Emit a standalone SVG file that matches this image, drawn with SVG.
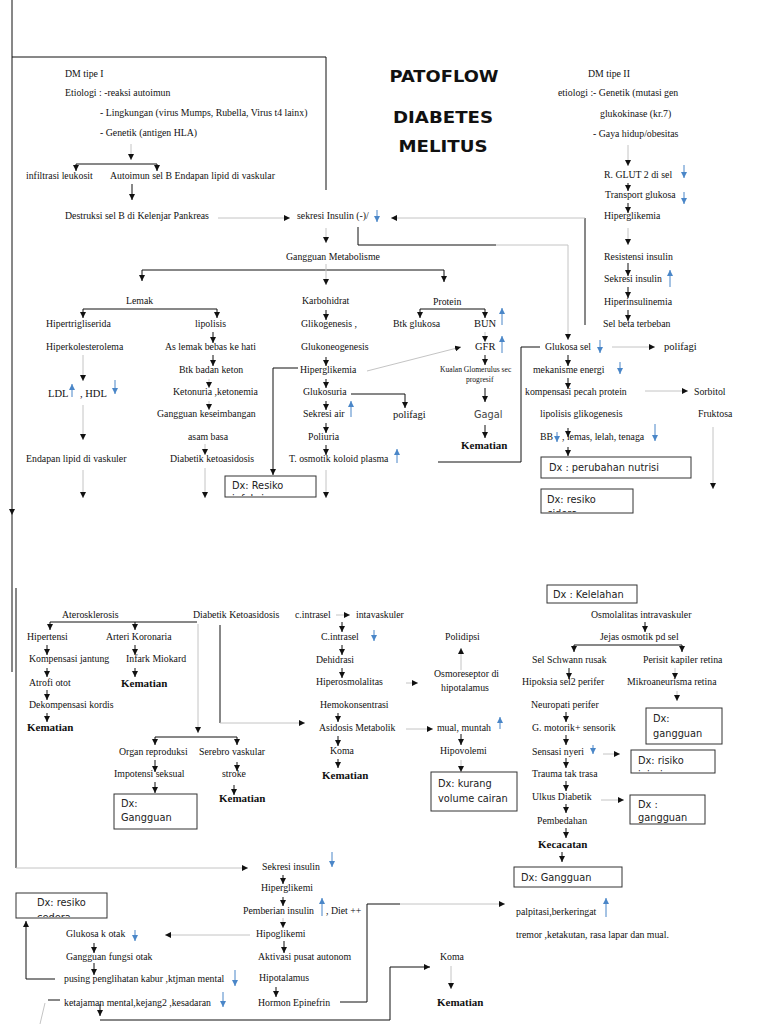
<svg xmlns="http://www.w3.org/2000/svg" width="768" height="1024" viewBox="0 0 768 1024">
<style>
text{font-family:"Liberation Serif","Times New Roman",serif;font-size:9.8px;fill:#111}
.b{font-weight:bold;font-size:11px}
.s{font-family:"DejaVu Sans","Liberation Sans",sans-serif;font-size:9.8px;fill:#222}
.ttl{font-family:"DejaVu Sans","Liberation Sans",sans-serif;font-weight:bold;font-size:16px;fill:#111}
.sm{font-size:7.6px}
.k{stroke:#111;stroke-width:1;fill:none}
.g{stroke:#c4c4c4;stroke-width:1;fill:none}
.bl{stroke:#4a86c8;stroke-width:1;fill:none}
.box{fill:#fff;stroke:#333;stroke-width:1}
</style>
<defs>
<marker id="ah" viewBox="0 0 6 6" refX="6" refY="3" markerWidth="6" markerHeight="6" orient="auto" markerUnits="userSpaceOnUse"><path d="M0,0L6,3L0,6z" fill="#111"/></marker>
<marker id="bh" viewBox="0 0 6 6" refX="6" refY="3" markerWidth="6" markerHeight="6" orient="auto" markerUnits="userSpaceOnUse"><path d="M0,0L6,3L0,6z" fill="#4a86c8"/></marker>
<clipPath id="c1"><rect x="225" y="476" width="91" height="20"/></clipPath>
<clipPath id="c2"><rect x="541" y="489" width="92" height="23"/></clipPath>
<clipPath id="c3"><rect x="114" y="794" width="83" height="34"/></clipPath>
<clipPath id="c4"><rect x="646" y="708" width="76" height="35"/></clipPath>
<clipPath id="c5"><rect x="631" y="750" width="84" height="22"/></clipPath>
<clipPath id="c6"><rect x="16" y="893" width="91" height="24"/></clipPath>
</defs>
<rect width="768" height="1024" fill="#fff"/>

<g id="title">
<text class="ttl" x="444" y="82" text-anchor="middle" textLength="109" lengthAdjust="spacingAndGlyphs">PATOFLOW</text>
<text class="ttl" x="443" y="123" text-anchor="middle" textLength="100" lengthAdjust="spacingAndGlyphs">DIABETES</text>
<text class="ttl" x="443" y="152" text-anchor="middle" textLength="89" lengthAdjust="spacingAndGlyphs">MELITUS</text>
</g>

<g id="connectors">
<path class="k" d="M12,0V515" marker-end="url(#ah)"/>
<path class="k" d="M12,515V672"/>
<path class="k" d="M12,57H326V190"/>
<path class="k" d="M16,588V868"/>
<path class="g" d="M16,868H248" marker-end="url(#ah)"/>
<path class="g" d="M131,144V160" marker-end="url(#ah)"/>
<path class="k" d="M76,164H157"/>
<path class="k" d="M76,164V171" marker-end="url(#ah)"/>
<path class="k" d="M157,164V171" marker-end="url(#ah)"/>
<path class="k" d="M132,184V200" marker-end="url(#ah)"/>
<path class="g" d="M218,218H290" marker-end="url(#ah)"/>
<path class="bl" d="M377,210V222" marker-end="url(#bh)"/>
<path class="k" d="M585,325V218"/>
<path class="g" d="M585,218H391" marker-end="url(#ah)"/>
<path class="k" d="M358,227V245H496"/>
<path class="g" d="M496,245H568V340" marker-end="url(#ah)"/>
<path class="g" d="M326,228V243" marker-end="url(#ah)"/>
<path class="k" d="M142,270H444"/>
<path class="k" d="M142,270V281" marker-end="url(#ah)"/>
<path class="k" d="M444,270V282" marker-end="url(#ah)"/>
<path class="g" d="M326,264V285" marker-end="url(#ah)"/>
<path class="k" d="M83,309H217"/>
<path class="k" d="M83,309V318" marker-end="url(#ah)"/>
<path class="k" d="M217,309V318" marker-end="url(#ah)"/>
<path class="k" d="M213,332V343" marker-end="url(#ah)"/>
<path class="k" d="M213,355V366" marker-end="url(#ah)"/>
<path class="g" d="M209,379V388" marker-end="url(#ah)"/>
<path class="g" d="M209,401V410" marker-end="url(#ah)"/>
<path class="g" d="M205,444V455" marker-end="url(#ah)"/>
<path class="g" d="M83,355V381" marker-end="url(#ah)"/>
<path class="g" d="M83,405V440" marker-end="url(#ah)"/>
<path class="g" d="M83,470V498" marker-end="url(#ah)"/>
<path class="g" d="M205,468V498" marker-end="url(#ah)"/>
<path class="bl" d="M72,397V384" marker-end="url(#bh)"/>
<path class="bl" d="M115,380V394" marker-end="url(#bh)"/>
<path class="k" d="M326,310V320" marker-end="url(#ah)"/>
<path class="k" d="M326,357V366" marker-end="url(#ah)"/>
<path class="k" d="M298,368H273V475" marker-end="url(#ah)"/>
<path class="g" d="M367,371L461,347" marker-end="url(#ah)"/>
<path class="k" d="M326,379V388" marker-end="url(#ah)"/>
<path class="k" d="M351,394H405V408" marker-end="url(#ah)"/>
<path class="k" d="M326,401V410" marker-end="url(#ah)"/>
<path class="bl" d="M351,417V401" marker-end="url(#bh)"/>
<path class="k" d="M326,423V433" marker-end="url(#ah)"/>
<path class="k" d="M326,445V455" marker-end="url(#ah)"/>
<path class="bl" d="M397,463V449" marker-end="url(#bh)"/>
<path class="g" d="M326,470V498" marker-end="url(#ah)"/>
<path class="k" d="M438,462H521V347H540"/>
<path class="k" d="M420,309H485"/>
<path class="k" d="M420,309V318" marker-end="url(#ah)"/>
<path class="k" d="M485,309V318" marker-end="url(#ah)"/>
<path class="g" d="M485,332V342" marker-end="url(#ah)"/>
<path class="k" d="M485,355V365" marker-end="url(#ah)"/>
<path class="k" d="M485,388V402" marker-end="url(#ah)"/>
<path class="k" d="M485,425V438" marker-end="url(#ah)"/>
<path class="bl" d="M502,325V308" marker-end="url(#bh)"/>
<path class="bl" d="M502,353V336" marker-end="url(#bh)"/>
<path class="g" d="M628,145V166" marker-end="url(#ah)"/>
<path class="k" d="M628,183V191" marker-end="url(#ah)"/>
<path class="k" d="M628,203V213" marker-end="url(#ah)"/>
<path class="g" d="M628,228V245" marker-end="url(#ah)"/>
<path class="k" d="M628,263V276" marker-end="url(#ah)"/>
<path class="k" d="M628,287V298" marker-end="url(#ah)"/>
<path class="k" d="M628,310V321" marker-end="url(#ah)"/>
<path class="bl" d="M684,165V178" marker-end="url(#bh)"/>
<path class="bl" d="M684,192V204" marker-end="url(#bh)"/>
<path class="bl" d="M670,287V270" marker-end="url(#bh)"/>
<path class="bl" d="M600,340V353" marker-end="url(#bh)"/>
<path class="g" d="M612,347H655" marker-end="url(#ah)"/>
<path class="k" d="M568,355V366" marker-end="url(#ah)"/>
<path class="bl" d="M620,362V374" marker-end="url(#bh)"/>
<path class="k" d="M568,378V389" marker-end="url(#ah)"/>
<path class="g" d="M645,391H688" marker-end="url(#ah)"/>
<path class="k" d="M568,428V437" marker-end="url(#ah)"/>
<path class="bl" d="M557,432V442" marker-end="url(#bh)"/>
<path class="bl" d="M655,424V441" marker-end="url(#bh)"/>
<path class="k" d="M568,447V456" marker-end="url(#ah)"/>
<path class="g" d="M713,427V489" marker-end="url(#ah)"/>
<path class="k" d="M50,622H197"/>
<path class="k" d="M50,622V630" marker-end="url(#ah)"/>
<path class="k" d="M135,622V630" marker-end="url(#ah)"/>
<path class="g" d="M198,624V733" marker-end="url(#ah)"/>
<path class="k" d="M220,625V723"/>
<path class="g" d="M220,723H305" marker-end="url(#ah)"/>
<path class="k" d="M47,645V655" marker-end="url(#ah)"/>
<path class="k" d="M135,645V655" marker-end="url(#ah)"/>
<path class="k" d="M47,668V677" marker-end="url(#ah)"/>
<path class="k" d="M135,668V677" marker-end="url(#ah)"/>
<path class="k" d="M47,690V700" marker-end="url(#ah)"/>
<path class="k" d="M47,713V722" marker-end="url(#ah)"/>
<path class="k" d="M155,737H237"/>
<path class="k" d="M155,737V745" marker-end="url(#ah)"/>
<path class="k" d="M237,737V745" marker-end="url(#ah)"/>
<path class="k" d="M155,760V772" marker-end="url(#ah)"/>
<path class="k" d="M237,762V771" marker-end="url(#ah)"/>
<path class="k" d="M155,782V793" marker-end="url(#ah)"/>
<path class="k" d="M234,785V795" marker-end="url(#ah)"/>
<path class="g" d="M336,615H350" marker-end="url(#ah)"/>
<path class="k" d="M342,622V632" marker-end="url(#ah)"/>
<path class="bl" d="M374,630V641" marker-end="url(#bh)"/>
<path class="k" d="M342,645V655" marker-end="url(#ah)"/>
<path class="k" d="M342,668V678" marker-end="url(#ah)"/>
<path class="g" d="M406,683H418" marker-end="url(#ah)"/>
<path class="g" d="M461,670V648" marker-end="url(#ah)"/>
<path class="k" d="M338,713V722" marker-end="url(#ah)"/>
<path class="g" d="M406,729H433" marker-end="url(#ah)"/>
<path class="bl" d="M500,729V717" marker-end="url(#bh)"/>
<path class="k" d="M461,734V745" marker-end="url(#ah)"/>
<path class="g" d="M461,760V772" marker-end="url(#ah)"/>
<path class="k" d="M338,736V746" marker-end="url(#ah)"/>
<path class="k" d="M338,759V768" marker-end="url(#ah)"/>
<path class="k" d="M645,622V632" marker-end="url(#ah)"/>
<path class="k" d="M574,645H682"/>
<path class="k" d="M574,645V652" marker-end="url(#ah)"/>
<path class="k" d="M682,645V652" marker-end="url(#ah)"/>
<path class="k" d="M569,668V679" marker-end="url(#ah)"/>
<path class="g" d="M675,668V679" marker-end="url(#ah)"/>
<path class="g" d="M677,691V701" marker-end="url(#ah)"/>
<path class="k" d="M566,712V722" marker-end="url(#ah)"/>
<path class="k" d="M566,735V745" marker-end="url(#ah)"/>
<path class="bl" d="M593,745V754" marker-end="url(#bh)"/>
<path class="g" d="M603,754H620" marker-end="url(#ah)"/>
<path class="k" d="M566,758V768" marker-end="url(#ah)"/>
<path class="k" d="M566,781V791" marker-end="url(#ah)"/>
<path class="g" d="M601,800H624" marker-end="url(#ah)"/>
<path class="k" d="M566,804V813" marker-end="url(#ah)"/>
<path class="k" d="M566,828V838" marker-end="url(#ah)"/>
<path class="k" d="M562,852V862" marker-end="url(#ah)"/>
<path class="bl" d="M332,852V867" marker-end="url(#bh)"/>
<path class="k" d="M283,875V884" marker-end="url(#ah)"/>
<path class="k" d="M283,897V906" marker-end="url(#ah)"/>
<path class="bl" d="M322,916V898" marker-end="url(#bh)"/>
<path class="g" d="M283,918V928" marker-end="url(#ah)"/>
<path class="g" d="M250,935H165" marker-end="url(#ah)"/>
<path class="bl" d="M135,930V941" marker-end="url(#bh)"/>
<path class="k" d="M284,941V953" marker-end="url(#ah)"/>
<path class="k" d="M276,987V997" marker-end="url(#ah)"/>
<path class="k" d="M340,1002H367V904H400"/>
<path class="g" d="M400,904H505" marker-end="url(#ah)"/>
<path class="bl" d="M606,917V898" marker-end="url(#bh)"/>
<path class="k" d="M94,943V953" marker-end="url(#ah)"/>
<path class="k" d="M94,963V975" marker-end="url(#ah)"/>
<path class="bl" d="M235,970V986" marker-end="url(#bh)"/>
<path class="k" d="M55,979H26V921" marker-end="url(#ah)"/>
<path class="bl" d="M223,992V1007" marker-end="url(#bh)"/>
<path class="k" d="M60,1000H48"/>
<path class="g" d="M45,1003L40,1024"/>
<path class="k" d="M100,1004V1016" marker-end="url(#ah)"/>
<path class="k" d="M100,1020H390V967"/>
<path class="k" d="M390,967H430" marker-end="url(#ah)"/>
<path class="g" d="M451,966V989" marker-end="url(#ah)"/>
</g>

<g id="dm1">
<g id="n-dm1"><text x="65" y="77">DM tipe I</text></g>
<g id="n-etiologi1"><text x="65" y="96">Etiologi : -reaksi autoimun</text></g>
<g id="n-lingkungan"><text x="100" y="116">- Lingkungan (virus Mumps, Rubella, Virus t4 lainx)</text></g>
<g id="n-genetik1"><text x="100" y="136">- Genetik (antigen HLA)</text></g>
<g id="n-infiltrasi"><text x="26" y="179">infiltrasi leukosit</text></g>
<g id="n-autoimun"><text x="110" y="179">Autoimun sel B Endapan lipid di vaskular</text></g>
<g id="n-destruksi"><text x="65" y="219">Destruksi sel B di Kelenjar Pankreas</text></g>
<g id="n-sekresi1"><text x="297" y="219">sekresi Insulin (-)/</text></g>
<g id="n-gangguanmet"><text x="286" y="260">Gangguan Metabolisme</text></g>
</g>

<g id="lemak">
<g id="n-lemak"><text x="126" y="304">Lemak</text></g>
<g id="n-hipertrig"><text x="46" y="327">Hipertrigliserida</text></g>
<g id="n-hiperkol"><text x="46" y="350">Hiperkolesterolema</text></g>
<g id="n-ldl"><text x="48" y="397" style="font-size:10.5px">LDL</text><text x="80" y="397" style="font-size:10.5px">, HDL</text></g>
<g id="n-endapan"><text x="26" y="462">Endapan lipid di vaskuler</text></g>
<g id="n-lipolisis"><text x="195" y="327">lipolisis</text></g>
<g id="n-aslemak"><text x="165" y="350">As lemak bebas ke hati</text></g>
<g id="n-btkketon"><text x="179" y="373">Btk badan keton</text></g>
<g id="n-ketonuria"><text x="173" y="395">Ketonuria ,ketonemia</text></g>
<g id="n-keseimbangan"><text x="157" y="417">Gangguan keseimbangan</text></g>
<g id="n-asambasa"><text x="188" y="440">asam basa</text></g>
<g id="n-dka1"><text x="170" y="462">Diabetik ketoasidosis</text></g>
</g>

<g id="karbo">
<g id="n-karbo"><text x="302" y="304">Karbohidrat</text></g>
<g id="n-glikogenesis"><text x="301" y="327">Glikogenesis ,</text></g>
<g id="n-glukoneo"><text x="301" y="350">Glukoneogenesis</text></g>
<g id="n-hipergli1"><text x="300" y="373">Hiperglikemia</text></g>
<g id="n-glukosuria"><text x="303" y="395">Glukosuria</text></g>
<g id="n-sekresiair"><text x="303" y="417">Sekresi air</text></g>
<g id="n-poliuria"><text x="308" y="440">Poliuria</text></g>
<g id="n-tosmotik"><text x="289" y="462">T. osmotik koloid plasma</text></g>
<g id="n-polifagi1"><text x="393" y="418" style="font-size:10.5px">polifagi</text></g>
<g id="n-dxresiko1"><rect class="box" x="225" y="476" width="91" height="21"/><g clip-path="url(#c1)"><text class="s" x="232" y="489">Dx: Resiko</text><text class="s" x="232" y="502">infeksi</text></g></g>
</g>

<g id="protein">
<g id="n-protein"><text x="433" y="305">Protein</text></g>
<g id="n-btkglukosa"><text x="393" y="327">Btk glukosa</text></g>
<g id="n-bun"><text x="474" y="327" style="font-size:10.5px">BUN</text></g>
<g id="n-gfr"><text x="475" y="350" style="font-size:10.5px">GFR</text></g>
<g id="n-kualan"><text class="sm" x="440" y="372">Kualan Glomerulus sec</text><text class="sm" x="466" y="382">progresif</text></g>
<g id="n-gagal"><text class="s" x="474" y="418" style="fill:#444">Gagal</text></g>
<g id="n-kematian1"><text class="b" x="461" y="449">Kematian</text></g>
</g>

<g id="dm2">
<g id="n-dm2"><text x="588" y="77">DM tipe II</text></g>
<g id="n-etiologi2"><text x="558" y="96">etiologi :- Genetik (mutasi gen</text></g>
<g id="n-glukokinase"><text x="600" y="117">glukokinase (kr.7)</text></g>
<g id="n-gaya"><text x="593" y="137">-  Gaya hidup/obesitas</text></g>
<g id="n-glut"><text x="604" y="178">R. GLUT 2 di sel</text></g>
<g id="n-transport"><text x="605" y="198">Transport glukosa</text></g>
<g id="n-hipergli2"><text x="604" y="219">Hiperglikemia</text></g>
<g id="n-resistensi"><text x="604" y="260">Resistensi insulin</text></g>
<g id="n-sekresi2"><text x="604" y="282">Sekresi insulin</text></g>
<g id="n-hiperins"><text x="604" y="305">Hiperinsulinemia</text></g>
<g id="n-selbeta"><text x="603" y="327">Sel beta terbeban</text></g>
<g id="n-glukosasel"><text x="545" y="350">Glukosa sel</text></g>
<g id="n-polifagi2"><text x="664" y="350" style="font-size:10.5px">polifagi</text></g>
<g id="n-mekanisme"><text x="533" y="373">mekanisme energi</text></g>
<g id="n-kompensasi"><text x="525" y="395">kompensasi pecah protein</text></g>
<g id="n-sorbitol"><text x="694" y="395">Sorbitol</text></g>
<g id="n-lipoglik"><text x="540" y="417">lipolisis glikogenesis</text></g>
<g id="n-fruktosa"><text x="698" y="417">Fruktosa</text></g>
<g id="n-bb"><text x="540" y="440">BB</text><text x="562" y="440">, lemas, lelah, tenaga</text></g>
<g id="n-dxnutrisi"><rect class="box" x="541" y="457" width="150" height="21"/><text class="s" x="549" y="471">Dx : perubahan nutrisi</text></g>
<g id="n-dxresiko2"><rect class="box" x="541" y="489" width="92" height="24"/><g clip-path="url(#c2)"><text class="s" x="547" y="503">Dx: resiko</text><text class="s" x="547" y="517">cidera</text></g></g>
</g>

<g id="komplikasi">
<g id="n-ateros"><text x="62" y="618">Aterosklerosis</text></g>
<g id="n-dka2"><text x="193" y="618">Diabetik Ketoasidosis</text></g>
<g id="n-hipertensi"><text x="27" y="640">Hipertensi</text></g>
<g id="n-arteri"><text x="106" y="640">Arteri Koronaria</text></g>
<g id="n-kompjantung"><text x="29" y="662">Kompensasi jantung</text></g>
<g id="n-infark"><text x="126" y="662">Infark Miokard</text></g>
<g id="n-atrofi"><text x="29" y="686">Atrofi otot</text></g>
<g id="n-kematian2"><text class="b" x="121" y="687">Kematian</text></g>
<g id="n-dekomp"><text x="29" y="708">Dekompensasi kordis</text></g>
<g id="n-kematian3"><text class="b" x="27" y="731">Kematian</text></g>
<g id="n-organ"><text x="119" y="755">Organ reproduksi</text></g>
<g id="n-serebro"><text x="199" y="755">Serebro vaskular</text></g>
<g id="n-impotensi"><text x="114" y="777">Impotensi seksual</text></g>
<g id="n-stroke"><text x="222" y="777">stroke</text></g>
<g id="n-kematian4"><text class="b" x="219" y="802">Kematian</text></g>
<g id="n-dxgangguan1"><rect class="box" x="114" y="794" width="83" height="35"/><g clip-path="url(#c3)"><text class="s" x="121" y="807">Dx:</text><text class="s" x="121" y="821">Gangguan</text><text class="s" x="121" y="836">seksual</text></g></g>
</g>

<g id="dehidrasi">
<g id="n-cintrasel1"><text x="295" y="618">c.intrasel</text></g>
<g id="n-intavaskuler"><text x="356" y="618">intavaskuler</text></g>
<g id="n-cintrasel2"><text x="321" y="640">C.intrasel</text></g>
<g id="n-dehidrasi"><text x="316" y="663">Dehidrasi</text></g>
<g id="n-hiperosm"><text x="316" y="685">Hiperosmolalitas</text></g>
<g id="n-hemokon"><text x="320" y="708">Hemokonsentrasi</text></g>
<g id="n-asidosis"><text x="319" y="731">Asidosis Metabolik</text></g>
<g id="n-koma1"><text x="330" y="754">Koma</text></g>
<g id="n-kematian5"><text class="b" x="322" y="779">Kematian</text></g>
<g id="n-polidipsi"><text x="445" y="640">Polidipsi</text></g>
<g id="n-osmoreseptor"><text x="434" y="677">Osmoreseptor di</text><text x="441" y="691">hipotalamus</text></g>
<g id="n-mual"><text x="437" y="731">mual, muntah</text></g>
<g id="n-hipovolemi"><text x="440" y="754">Hipovolemi</text></g>
<g id="n-dxkurang"><rect class="box" x="431" y="772" width="86" height="39"/><text class="s" x="438" y="787">Dx: kurang</text><text class="s" x="438" y="802">volume cairan</text></g>
</g>

<g id="neuropati">
<g id="n-dxkelelahan"><rect class="box" x="547" y="585" width="90" height="18"/><text class="s" x="553" y="598">Dx :  Kelelahan</text></g>
<g id="n-osmolalitas"><text x="591" y="618">Osmolalitas intravaskuler</text></g>
<g id="n-jejas"><text x="600" y="640">Jejas osmotik pd sel</text></g>
<g id="n-schwann"><text x="532" y="663">Sel Schwann rusak</text></g>
<g id="n-perisit"><text x="643" y="663">Perisit kapiler retina</text></g>
<g id="n-hipoksia"><text x="522" y="685">Hipoksia sel2 perifer</text></g>
<g id="n-mikro"><text x="627" y="685">Mikroaneurisma retina</text></g>
<g id="n-dxgangguan2"><rect class="box" x="646" y="708" width="76" height="36"/><g clip-path="url(#c4)"><text class="s" x="653" y="722">Dx:</text><text class="s" x="653" y="737">gangguan</text><text class="s" x="653" y="752">persepsi</text></g></g>
<g id="n-neuropati"><text x="531" y="708">Neuropati perifer</text></g>
<g id="n-motorik"><text x="532" y="731">G. motorik+ sensorik</text></g>
<g id="n-sensasi"><text x="532" y="755">Sensasi nyeri</text></g>
<g id="n-dxrisiko"><rect class="box" x="631" y="750" width="84" height="23"/><g clip-path="url(#c5)"><text class="s" x="638" y="764">Dx: risiko</text><text class="s" x="638" y="778">injuri</text></g></g>
<g id="n-trauma"><text x="532" y="777">Trauma tak trasa</text></g>
<g id="n-ulkus"><text x="532" y="800">Ulkus Diabetik</text></g>
<g id="n-dxgangguan3"><rect class="box" x="630" y="795" width="75" height="29"/><text class="s" x="638" y="808">Dx :</text><text class="s" x="638" y="821">gangguan</text></g>
<g id="n-pembedahan"><text x="537" y="824">Pembedahan</text></g>
<g id="n-kecacatan"><text class="b" x="538" y="848">Kecacatan</text></g>
<g id="n-dxgangguan4"><rect class="box" x="514" y="867" width="108" height="20"/><text class="s" x="521" y="881">Dx: Gangguan</text></g>
</g>

<g id="hipoglikemi">
<g id="n-sekresi3"><text x="262" y="870">Sekresi insulin</text></g>
<g id="n-hipergli3"><text x="261" y="891">Hiperglikemi</text></g>
<g id="n-pemberian"><text x="243" y="914">Pemberian insulin</text><text x="326" y="914">, Diet ++</text></g>
<g id="n-hipogli"><text x="256" y="937">Hipoglikemi</text></g>
<g id="n-aktivasi"><text x="258" y="960">Aktivasi pusat autonom</text></g>
<g id="n-hipotalamus"><text x="259" y="981">Hipotalamus</text></g>
<g id="n-epinefrin"><text x="258" y="1006">Hormon Epinefrin</text></g>
<g id="n-glukosaotak"><text x="66" y="937">Glukosa k otak</text></g>
<g id="n-fungsiotak"><text x="66" y="960">Gangguan fungsi otak</text></g>
<g id="n-pusing"><text x="64" y="982">pusing penglihatan kabur ,ktjman mental</text></g>
<g id="n-ketajaman"><text x="64" y="1006">ketajaman mental,kejang2 ,kesadaran</text></g>
<g id="n-dxresiko3"><rect class="box" x="16" y="893" width="91" height="25"/><g clip-path="url(#c6)"><text class="s" x="37" y="906">Dx: resiko</text><text class="s" x="37" y="921">cedera</text></g></g>
<g id="n-palpitasi"><text x="516" y="915">palpitasi,berkeringat</text></g>
<g id="n-tremor"><text x="516" y="938">tremor ,ketakutan, rasa lapar dan mual.</text></g>
<g id="n-koma2"><text x="440" y="960">Koma</text></g>
<g id="n-kematian6"><text class="b" x="437" y="1006">Kematian</text></g>
</g>
</svg>
